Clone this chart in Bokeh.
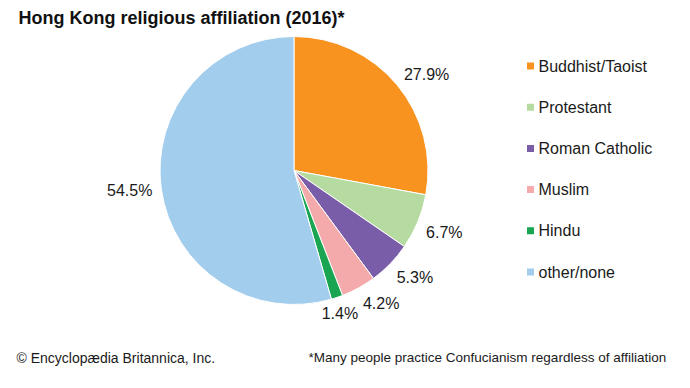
import math
from bokeh.plotting import figure
from bokeh.models import Range1d, ColumnDataSource
from bokeh.core.properties import value
from bokeh.embed import file_html
from bokeh.resources import INLINE

# ---- data ----
title = "Hong Kong religious affiliation (2016)*"
categories = ["Buddhist/Taoist", "Protestant", "Roman Catholic", "Muslim", "Hindu", "other/none"]
shares = [27.9, 6.7, 5.3, 4.2, 1.4, 54.5]
colors = ["#F7931E", "#B5DBA0", "#7A5DA8", "#F4AAAA", "#19A552", "#A2CDEC"]
credit = "\u00a9 Encyclop\u00e6dia Britannica, Inc."
footnote = "*Many people practice Confucianism regardless of affiliation"

# data coordinates = picture pixels (y downward shown as negative)
W, H = 674, 372
FONT = "Liberation Sans"

p = figure(width=W, height=H, output_backend="svg", toolbar_location=None,
           x_range=Range1d(0, W), y_range=Range1d(-H, 0), min_border=0)
p.axis.visible = False
p.grid.visible = False
p.outline_line_color = None
p.background_fill_color = "white"
p.border_fill_color = "white"

# ---- pie ----
cx, cy, r = 293.5, -170.0, 134.0
total = sum(shares)
starts, ends, mids = [], [], []
cum = 0.0
for v in shares:
    a0 = math.pi / 2 - 2 * math.pi * cum / total
    a1 = math.pi / 2 - 2 * math.pi * (cum + v) / total
    starts.append(a0)
    ends.append(a1)
    mids.append((a0 + a1) / 2)
    cum += v

src = ColumnDataSource(dict(start=starts, end=ends, color=colors))
p.wedge(x=cx, y=cy, radius=r, start_angle="start", end_angle="end", direction="clock",
        fill_color="color", line_color="white", line_width=1, source=src)

# ---- percentage labels ----
R = 143.0
for v, m in zip(shares, mids):
    c, s = math.cos(m), math.sin(m)
    x, y = cx + R * c, cy + R * s
    if abs(c) < 0.4:
        align = "center"
    elif c > 0:
        align = "left"
    else:
        align = "right"
    if abs(s) < 0.3:
        base = "middle"
    elif s > 0:
        base = "bottom"
        y -= 4
    else:
        base = "top"
        y += 1
    p.text(x=[x], y=[y], text=[f"{v:.1f}%"], text_font=value(FONT), text_font_size="16px",
           text_align=align, text_baseline=base, text_color="#1a1a1a")

# ---- legend ----
lx, ly0, dy = 530, 65.5, 41.2
ly = [-(ly0 + i * dy) for i in range(len(categories))]
p.rect(x=[lx] * len(categories), y=ly, width=7, height=7, fill_color=colors, line_color=None)
p.text(x=[lx + 8] * len(categories), y=ly, text=categories, text_font=value(FONT),
       text_font_size="16px", text_baseline="middle", text_align="left", text_color="#1a1a1a")

# ---- title & notes ----
p.text(x=[18], y=[-17], text=[title], text_font=value(FONT), text_font_size="18px",
       text_font_style="bold", text_baseline="alphabetic", text_color="#111111")
p.text(x=[16], y=[-357], text=[credit], text_font=value(FONT), text_font_size="14px",
       text_baseline="alphabetic", text_color="#1a1a1a")
p.text(x=[308], y=[-357], text=[footnote], text_font=value(FONT), text_font_size="13.5px",
       text_baseline="alphabetic", text_color="#1a1a1a")

open("out.html", "w").write(file_html(p, INLINE))
